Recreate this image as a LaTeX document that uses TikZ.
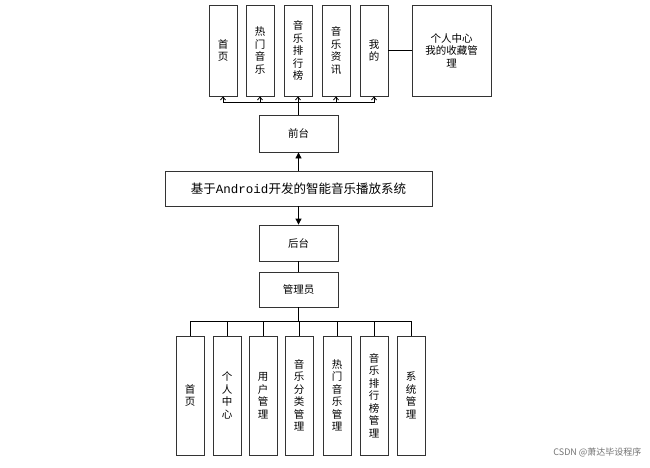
\documentclass[tikz,border=0pt]{standalone}
\usepackage{fontspec}
\setmainfont{Noto Sans CJK SC}
\newfontfamily\monof{Liberation Mono}
\usetikzlibrary{arrows.meta}
\begin{document}
\begin{tikzpicture}[x=1pt,y=-1pt,
  bx/.style={draw=black!80,line width=0.8pt,fill=white,inner sep=0pt,font=\fontsize{10.5}{12.5}\selectfont,align=center},
  ln/.style={draw=black,line width=0.8pt},
  oa/.style={ln,-{Straight Barb[length=3pt,width=5pt]}},
  fa/.style={ln,-{Triangle[length=6pt,width=6pt]}}]
\useasboundingbox (0,0) rectangle (650,467);
% top
\foreach \n/\x/\t in {t1/223/首\\页, t2/260/热\\门\\音\\乐, t3/298/音\\乐\\排\\行\\榜, t4/336/音\\乐\\资\\讯, t5/374/我\\的}
  \node[bx,minimum width=28pt,minimum height=91pt] (\n) at (\x,50.5) {\t};
\node[bx,minimum width=79pt,minimum height=91pt] (t6) at (451.5,50.5) {个人中心\\我的收藏管\\理};
\draw[ln] (t5.east) -- (t6.west);
\node[bx,minimum width=79pt,minimum height=37pt] (qt) at (298.5,133.5) {前台};
\node[bx,minimum width=267pt,minimum height=35pt,font=\fontsize{12.5}{14}\selectfont] (ti) at (298.5,188.5) {基于{\monof Android}开发的智能音乐播放系统};
\node[bx,minimum width=79pt,minimum height=36pt] (ht) at (298.5,243) {后台};
\node[bx,minimum width=79pt,minimum height=35pt] (gl) at (298.5,289.5) {管理员};
\coordinate (bt) at (298.5,102);
\draw[ln] (qt.north) -- (bt);
\foreach \n in {t1,t2,t3,t4,t5}{\draw[oa] (bt) -| (\n.south);}
\draw[fa] (ti.north) -- (qt.south);
\draw[fa] (ti.south) -- (ht.north);
\draw[ln] (ht.south) -- (gl.north);
% bottom
\foreach \n/\x/\t in {b1/190/首\\页, b2/227/个\\人\\中\\心, b3/263/用\\户\\管\\理, b4/299/音\\乐\\分\\类\\管\\理, b5/337/热\\门\\音\\乐\\管\\理, b6/374/音\\乐\\排\\行\\榜\\管\\理, b7/411/系\\统\\管\\理}
  \node[bx,minimum width=28pt,minimum height=119pt] (\n) at (\x,395.5) {\t};
\coordinate (bb) at (298.5,321);
\draw[ln] (gl.south) -- (bb);
\foreach \n in {b1,b2,b3,b4,b5,b6,b7}{\draw[ln] (bb) -| (\n.north);}
\node[text=black!55,font=\fontsize{9}{10}\selectfont,anchor=east] (wm) at (645,452) {CSDN @萧达毕设程序};
\end{tikzpicture}
\end{document}
